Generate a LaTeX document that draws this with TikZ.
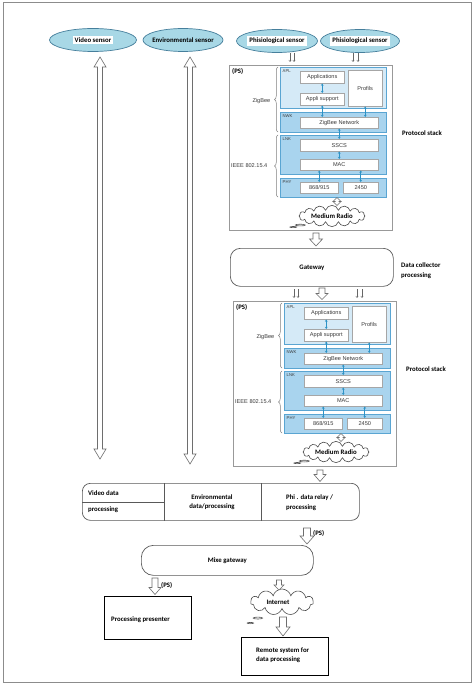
\documentclass[tikz,border=0pt]{standalone}
\usepackage{fontspec}
\setmainfont{Carlito}
\newfontfamily\arialf{Liberation Sans}
\usetikzlibrary{shapes.geometric,shapes.callouts,shapes.symbols,decorations.pathreplacing,calc,arrows.meta}

\definecolor{sensfill}{HTML}{A8D8E6}
\definecolor{sensdraw}{HTML}{467F9C}
\definecolor{aplfill}{HTML}{D5EAF7}
\definecolor{layfill}{HTML}{A9D4EE}
\definecolor{laydraw}{HTML}{5AA5D2}
\definecolor{barrow}{HTML}{2E93C6}
\definecolor{txtgray}{HTML}{3A3A3A}
\definecolor{framegray}{HTML}{8C8C8C}
\definecolor{arrgray}{HTML}{6E6E6E}

\newcommand\lblfont{\fontsize{6.8}{9.5}\selectfont\bfseries}
\newcommand\stkfont{\arialf\fontsize{5.6}{6.5}\selectfont}
\newcommand\tinyfont{\arialf\fontsize{4.2}{4.5}\selectfont}

\tikzset{
  box/.style={draw, inner sep=0pt, anchor=north west},
  lbl/.style={font=\lblfont, text=black, inner sep=1pt},
  stlayer/.style={box, draw=laydraw, fill=layfill, line width=0.8pt, minimum width=106pt},
  inbox/.style={box, draw=gray!70, fill=white, line width=0.5pt, text=txtgray, font=\stkfont},
  stk/.style={font=\stkfont, text=txtgray, inner sep=0.5pt},
  tinylbl/.style={font=\tinyfont, text=txtgray, inner sep=0pt, anchor=north west},
  barr/.style={draw=barrow, line width=0.9pt, {Stealth[length=2.2pt,width=2.8pt]}-{Stealth[length=2.2pt,width=2.8pt]}},
  brc/.style={draw=gray, line width=0.5pt, decorate, decoration={brace, amplitude=3.5pt}},
  blk/.style={draw=arrgray, fill=white, line width=0.6pt, line join=miter},
  thinarr/.style={draw=gray!80!black, line width=0.4pt, -{Straight Barb[length=1.6pt,width=2.4pt]}},
  sensor/.style={ellipse, draw=sensdraw, fill=sensfill, line width=0.7pt, inner sep=0pt},
  cloudbox/.style={cloud callout, draw=gray!60!black, fill=white, line width=0.6pt, inner sep=0pt},
}

% hollow block arrow pointing down, from #1 (top) to #2 (tip); half shaft #3, half head #4, head length #5
\newcommand\blkdown[5]{\draw[blk] let \p1=(#1), \p2=(#2) in
  (\x1-#3pt,\y1) -- (\x1+#3pt,\y1) -- (\x1+#3pt,\y2+#5pt) -- (\x1+#4pt,\y2+#5pt) -- (\x1,\y2)
  -- (\x1-#4pt,\y2+#5pt) -- (\x1-#3pt,\y2+#5pt) -- cycle;}
% hollow double-headed block arrow between #1 (top tip) and #2 (bottom tip)
\newcommand\blkboth[5]{\draw[blk] let \p1=(#1), \p2=(#2) in
  (\x1,\y1) -- (\x1+#4pt,\y1-#5pt) -- (\x1+#3pt,\y1-#5pt) -- (\x1+#3pt,\y2+#5pt) -- (\x1+#4pt,\y2+#5pt)
  -- (\x1,\y2) -- (\x1-#4pt,\y2+#5pt) -- (\x1-#3pt,\y2+#5pt) -- (\x1-#3pt,\y1-#5pt) -- (\x1-#4pt,\y1-#5pt) -- cycle;}
% small double block arrow in local coordinates (pixel y downwards)
\newcommand\smallboth[3]{\draw[blk] (#1,#2) -- ({#1+4},{#2+4}) -- ({#1+1.5},{#2+4}) -- ({#1+1.5},{#3-4})
  -- ({#1+4},{#3-4}) -- (#1,#3) -- ({#1-4},{#3-4}) -- ({#1-1.5},{#3-4}) -- ({#1-1.5},{#2+4}) -- ({#1-4},{#2+4}) -- cycle;}

\newcommand\protostack{%
  \node[box, draw=gray!80, line width=0.8pt, minimum width=163pt, minimum height=165pt] (ps) at (229,65) {};
  \node[lbl, anchor=north west] (pslbl) at (231,67) {(PS)};
  \node[stlayer, fill=aplfill, minimum height=41pt] (apl) at (280,67) {};
  \node[stlayer, minimum height=20pt] (nwk) at (280,112) {};
  \node[stlayer, minimum height=39pt] (lnk) at (280,135) {};
  \node[stlayer, minimum height=19pt] (phy) at (280,178) {};
  \node[tinylbl] (apll) at (282.5,69) {APL};
  \node[tinylbl] (nwkl) at (282.5,114) {NWK};
  \node[tinylbl] (lnkl) at (282.5,137) {LNK};
  \node[tinylbl] (phyl) at (282.5,180) {PHY};
  \node[inbox, minimum width=44pt, minimum height=12pt] (app) at (300,71) {Applications};
  \node[inbox, minimum width=44pt, minimum height=12pt] (aps) at (300,93) {Appli support};
  \node[inbox, minimum width=34pt, minimum height=36pt] (prof) at (348,70) {Profils};
  \node[inbox, minimum width=78pt, minimum height=11pt] (zn) at (300,117) {ZigBee Network};
  \node[inbox, minimum width=78pt, minimum height=12pt] (sscs) at (300,139) {SSCS};
  \node[inbox, minimum width=78pt, minimum height=11pt] (mac) at (300,159) {MAC};
  \node[inbox, minimum width=38pt, minimum height=11pt] (f868) at (300,182) {868/915};
  \node[inbox, minimum width=35pt, minimum height=11pt] (f2450) at (343,182) {2450};
  \draw[barr] (app.south) -- (aps.north);
  \draw[barr] (aps.south) -- (aps.south |- zn.north);
  \draw[barr] (prof.south) -- (prof.south |- zn.north);
  \draw[barr] (zn.south) -- (sscs.north);
  \draw[barr] (sscs.south) -- (mac.north);
  \draw[barr] (f868.north) -- (f868.north |- mac.south);
  \draw[barr] (f2450.north) -- (f2450.north |- mac.south);
  \draw[brc] (278,132) -- (278,67);
  \draw[brc] (278,197) -- (278,135);
  \node[stk, anchor=east] (zb) at (271,101) {ZigBee};
  \node[stk, anchor=east] (ieee) at (268,166) {IEEE 802.15.4};
  \node[cloudbox, cloud puffs=16, aspect=4.6, minimum width=66pt, minimum height=13pt,
        callout relative pointer={(-14,4)}, font=\lblfont] (mr) at (332,216) {Medium Radio};
  \smallboth{337}{197.5}{205.5}
  \coordinate (s1a) at (290,53); \coordinate (s1b) at (290,62);
  \coordinate (s2a) at (294,53); \coordinate (s2b) at (294,62);
  \coordinate (s3a) at (353,53); \coordinate (s3b) at (353,62);
  \coordinate (s4a) at (358,53); \coordinate (s4b) at (358,62);
  \draw[thinarr] (s1a) -- (s1b);
  \draw[thinarr] (s2a) -- (s2b);
  \draw[thinarr] (s3a) -- (s3b);
  \draw[thinarr] (s4a) -- (s4b);
  \node[lbl, anchor=west] (pst) at (401,133) {Protocol stack};
}

\begin{document}
\begin{tikzpicture}[x=1pt,y=-1pt]
\useasboundingbox (0,0) rectangle (474,687);
\fill[white] (0,0) rectangle (474,687);
\draw[framegray, line width=1pt] (3,3) rectangle (471,682);

% sensors
\node[sensor, minimum width=87pt, minimum height=23pt] (vs) at (93,40) {};
\node[lbl, fill=white, inner sep=2pt] (vst) at (vs) {Video sensor};
\node[sensor, minimum width=80pt, minimum height=23pt] (es) at (183,40) {};
\node[lbl] (est) at (es) {Environmental sensor};
\node[sensor, minimum width=81pt, minimum height=23pt] (pa) at (277,41) {};
\node[lbl, fill=white, inner sep=2pt] (pat) at (pa) {Phisiological sensor};
\node[sensor, minimum width=79pt, minimum height=23pt] (pb) at (360,41) {};
\node[lbl, fill=white, inner sep=2pt] (pbt) at (pb) {Phisiological sensor};

% protocol stacks
\protostack
\begin{scope}[shift={(4,236)}, name prefix=b-]
\protostack
\end{scope}

% gateway
\node[box, rounded corners=10pt, draw=gray!70!black, line width=0.7pt, minimum width=163pt, minimum height=38pt, font=\lblfont] (gw) at (230,248) {Gateway};
\node[lbl, anchor=west, align=left] (dc) at (400,270.5) {Data collector\\processing};

% processing row
\node[box, rounded corners=8pt, draw=gray!70!black, line width=0.7pt, minimum width=277pt, minimum height=37pt] (row) at (82,483) {};
\coordinate (d1) at (164,0);
\coordinate (d2) at (261,0);
\coordinate (d3) at (0,502);
\draw[gray!70!black, line width=0.7pt] (row.north -| d1) -- (row.south -| d1);
\draw[gray!70!black, line width=0.7pt] (row.north -| d2) -- (row.south -| d2);
\draw[gray!70!black, line width=0.7pt] (row.west |- d3) -- (d3 -| d1);
\node[lbl, anchor=west] (vd) at (87,493) {Video data};
\node[lbl, anchor=west] (vp) at (87,510) {processing};
\node[lbl, align=center] (env) at (212,502) {Environmental\\data/processing};
\node[lbl, align=left, anchor=west] (phi) at (285,502.5) {Phi . data relay /\\processing};

% mixe gateway
\node[box, rounded corners=12pt, draw=gray!70!black, line width=0.7pt, minimum width=172pt, minimum height=30pt, font=\lblfont] (mg) at (141,545) {Mixe gateway};
\node[lbl, anchor=west] (ps1l) at (312,533) {(PS)};
\node[lbl, anchor=west] (ps2l) at (160,585) {(PS)};

% processing presenter
\node[box, line width=1.3pt, minimum width=87pt, minimum height=43pt] (pp) at (104,596) {};
\node[lbl, anchor=west] (ppt) at (110,620) {Processing presenter};

% internet
\node[cloudbox, cloud puffs=11, aspect=2.4, minimum width=63pt, minimum height=26pt,
      callout relative pointer={(-15,10)}] (inet) at (282,602) {};
\node[lbl] (inett) at (278,602) {Internet};

% remote system
\node[box, line width=1.3pt, minimum width=87pt, minimum height=38pt] (rs) at (241,637) {};
\node[lbl, anchor=west, align=left] (rst) at (255,655) {Remote system for\\data processing};

% hollow arrows
\coordinate (va1) at (100,57);  \coordinate (va2) at (100,459);
\coordinate (ea1) at (190,57);  \coordinate (ea2) at (190,464);
\blkboth{va1}{va2}{2.5}{6}{10}
\blkboth{ea1}{ea2}{2.5}{6}{10}
\coordinate (g1) at (316,233);  \coordinate (g2) at (316,246);
\blkdown{g1}{g2}{3}{6.5}{7}
\coordinate (g3) at (322,288);  \coordinate (g4) at (322,299.5);
\blkdown{g3}{g4}{3}{6}{6}
\coordinate (r1) at (320,470);  \coordinate (r2) at (320,481.5);
\blkdown{r1}{r2}{3}{6}{7}
\coordinate (m1) at (307,528);  \coordinate (m2) at (307,544);
\blkdown{m1}{m2}{3.5}{7}{8}
\coordinate (p1) at (155,578);  \coordinate (p2) at (155,594.5);
\blkdown{p1}{p2}{3}{6}{7}
\coordinate (i1) at (279,580);  \coordinate (i2) at (279,590);
\blkdown{i1}{i2}{2.5}{5}{5}
\coordinate (i3) at (283,617);  \coordinate (i4) at (283,636);
\blkdown{i3}{i4}{3.5}{7}{9}
\end{tikzpicture}
\end{document}
